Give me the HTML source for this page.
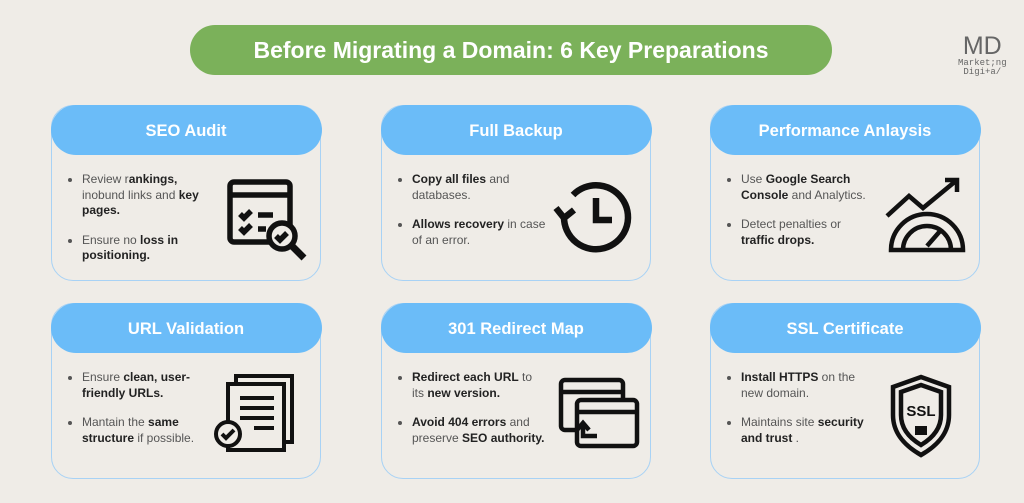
<!DOCTYPE html>
<html><head><meta charset="utf-8"><style>
body{margin:0;width:1024px;height:503px;background:#efece7;font-family:"Liberation Sans",sans-serif;position:relative;overflow:hidden}
.title{position:absolute;left:190px;top:25px;width:642px;height:50px;border-radius:25px;background:#7bb15a;color:#fff;font-weight:bold;font-size:23px;text-align:center;line-height:50px}
.logo{position:absolute;left:958px;top:33px;color:#666;text-align:center}
.logo b{font-weight:normal;font-size:25px;display:block;line-height:26px}
.logo span{font-family:"Liberation Mono",monospace;font-size:9px;line-height:9px;display:block}
.card{position:absolute;width:270px;height:176px;border:1.5px solid #a8d2f5;border-radius:22px;box-sizing:border-box}
.hd{position:absolute;left:-1.5px;top:-1.5px;right:-1.5px;height:50px;background:#6bbcf8;border-radius:25px;color:#fff;font-weight:bold;font-size:16.5px;text-align:center;line-height:52px}
ul{position:absolute;left:16px;top:66px;width:135px;margin:0;padding-left:14px;font-size:12px;line-height:15.5px;color:#555}
li{margin-bottom:14px}
li b{color:#222}
svg{position:absolute}
</style></head><body>
<div class="title">Before Migrating a Domain: 6 Key Preparations</div>
<div class="logo"><b>MD</b><span>Market;ng<br>Digi+a/</span></div>

<div class="card" style="left:51px;top:105px"><div class="hd">SEO Audit</div>
<ul><li>Review r<b>ankings,</b> inobund links and <b>key pages.</b></li><li>Ensure no <b>loss in positioning.</b></li></ul>
<svg style="left:174px;top:72px" width="84" height="84" viewBox="0 0 84 84" fill="none" stroke="#111" stroke-width="5.5"><rect x="4" y="4" width="60" height="60" rx="4"/><line x1="4" y1="17" x2="64" y2="17"/><path d="M14 36l4 4 7-7M14 50l4 4 7-7M32 37h15M32 51h8"/><circle cx="56" cy="58" r="13" fill="#efece7"/><path d="M50 58l4 4 7-7"/><line x1="66" y1="68" x2="78" y2="80" stroke-width="7"/></svg></div>

<div class="card" style="left:381px;top:105px"><div class="hd">Full Backup</div>
<ul><li><b>Copy all files</b> and databases.</li><li><b>Allows recovery</b> in case of an error.</li></ul>
<svg style="left:168px;top:68px" width="86" height="86" viewBox="0 0 86 86" fill="none" stroke="#111" stroke-width="6.5"><path d="M14 43a32 32 0 1 0 9-22"/><path d="M6 34l8 10 10-8" /><path d="M46 24v22h16"/></svg></div>

<div class="card" style="left:710px;top:105px"><div class="hd">Performance Anlaysis</div>
<ul><li>Use <b>Google Search Console</b> and Analytics.</li><li>Detect penalties or <b>traffic drops.</b></li></ul>
<svg style="left:172px;top:70px" width="90" height="80" viewBox="0 0 90 80" fill="none" stroke="#111" stroke-width="4.5"><path d="M4 40l22-20 14 12 34-28M62 4h12v12"/><path d="M8 74a36 36 0 0 1 72 0z"/><path d="M20 74a24 24 0 0 1 48 0"/><line x1="44" y1="70" x2="58" y2="54"/></svg></div>

<div class="card" style="left:51px;top:303px"><div class="hd">URL Validation</div>
<ul><li>Ensure <b>clean, user-friendly URLs.</b></li><li>Mantain the <b>same structure</b> if possible.</li></ul>
<svg style="left:162px;top:68px" width="84" height="86" viewBox="0 0 84 86" fill="none" stroke="#111" stroke-width="4"><rect x="22" y="4" width="56" height="66"/><rect x="14" y="12" width="56" height="66" fill="#efece7"/><path d="M26 26h34M26 36h34M26 46h34M40 56h20"/><circle cx="14" cy="62" r="12" fill="#efece7"/><path d="M8 62l4 4 8-8"/></svg></div>

<div class="card" style="left:381px;top:303px"><div class="hd">301 Redirect Map</div>
<ul><li><b>Redirect each URL</b> to its <b>new version.</b></li><li><b>Avoid 404 errors</b> and preserve <b>SEO authority.</b></li></ul>
<svg style="left:175px;top:72px" width="84" height="76" viewBox="0 0 84 76" fill="none" stroke="#111" stroke-width="4.5"><rect x="4" y="4" width="62" height="50" rx="4"/><line x1="4" y1="16" x2="66" y2="16"/><rect x="20" y="24" width="60" height="46" rx="4" fill="#efece7"/><line x1="20" y1="36" x2="80" y2="36"/><path d="M40 60h-14v-12M20 54l6-7 6 7"/></svg></div>

<div class="card" style="left:710px;top:303px"><div class="hd">SSL Certificate</div>
<ul><li><b>Install HTTPS</b> on the new domain.</li><li>Maintains site <b>security and trust</b> .</li></ul>
<svg style="left:178px;top:70px" width="64" height="84" viewBox="0 0 64 84" fill="none" stroke="#111" stroke-width="4.5"><path d="M32 3l28 10v28c0 20-14 32-28 40C18 73 4 61 4 41V13z"/><path d="M32 11l20 7v23c0 15-10 24-20 30-10-6-20-15-20-30V18z"/><text x="32" y="42" font-size="15" font-weight="bold" text-anchor="middle" fill="#111" stroke="none" font-family="Liberation Sans">SSL</text><rect x="26" y="52" width="12" height="9" fill="#111" stroke="none"/></svg></div>
</body></html>
